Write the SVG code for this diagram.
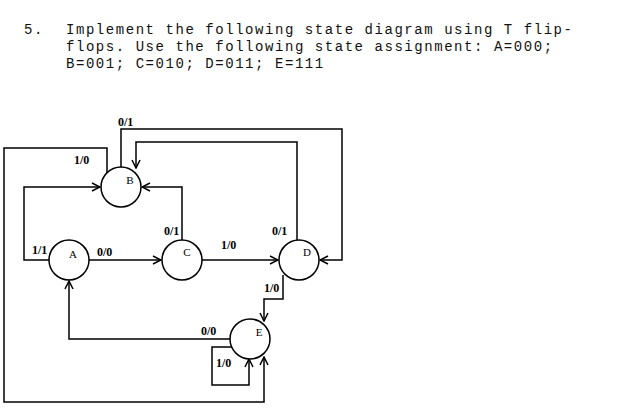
<svg xmlns="http://www.w3.org/2000/svg" width="636" height="411" viewBox="0 0 636 411">
<style>
.h{font-family:"Liberation Mono",monospace;font-size:14px;letter-spacing:1.55px;fill:#111}
.l{font-family:"Liberation Serif",serif;font-size:12px;font-weight:bold;fill:#000}
.n{font-family:"Liberation Serif",serif;font-size:11px;fill:#000}
circle{fill:#fff;stroke:#000;stroke-width:1.5}
.c path{fill:none;stroke:#000;stroke-width:1.5;marker-end:url(#a)}
</style>
<defs><marker id="a" markerWidth="10" markerHeight="10" refX="9" refY="5" orient="auto" markerUnits="userSpaceOnUse"><path d="M1,1 L9,5 L1,9" fill="none" stroke="#000" stroke-width="1.5"/></marker></defs>
<rect width="636" height="411" fill="#fff"/>
<text class="h" x="24" y="34">5.</text>
<text class="h" x="66" y="34">Implement the following state diagram using T flip-</text>
<text class="h" x="66" y="51">flops. Use the following state assignment: A=000;</text>
<text class="h" x="66" y="68">B=001; C=010; D=011; E=111</text>
<g class="c">
<path d="M121,168 V129 H342 V260 H320"/>
<path d="M297,240 V142 H136 V168"/>
<path d="M107,173 V148 H4 V402 H264 V357"/>
<path d="M49,260 H24 V187 H100"/>
<path d="M182,240 V187 H142"/>
<path d="M89,260 H161"/>
<path d="M202,260 H278"/>
<path d="M283,275 V299 H264 V321"/>
<path d="M230,339 H69 V281"/>
<path d="M235,347 H212 V385 H249 V359"/>
</g>
<g id="A"><circle cx="69" cy="260" r="20"/><text class="n" x="73" y="258" text-anchor="middle">A</text></g>
<g id="B"><circle cx="121" cy="187" r="20"/><text class="n" x="130" y="184" text-anchor="middle">B</text></g>
<g id="C"><circle cx="182" cy="260" r="20"/><text class="n" x="187" y="256" text-anchor="middle">C</text></g>
<g id="D"><circle cx="299" cy="260" r="20"/><text class="n" x="307" y="256" text-anchor="middle">D</text></g>
<g id="E"><circle cx="250" cy="339" r="20"/><text class="n" x="259" y="336" text-anchor="middle">E</text></g>
<text class="l" x="118" y="126">0/1</text>
<text class="l" x="74" y="164">1/0</text>
<text class="l" x="32" y="254">1/1</text>
<text class="l" x="97" y="256">0/0</text>
<text class="l" x="164" y="235">0/1</text>
<text class="l" x="221" y="249">1/0</text>
<text class="l" x="272" y="235">0/1</text>
<text class="l" x="264" y="292">1/0</text>
<text class="l" x="201" y="335">0/0</text>
<text class="l" x="216" y="367">1/0</text>
</svg>
